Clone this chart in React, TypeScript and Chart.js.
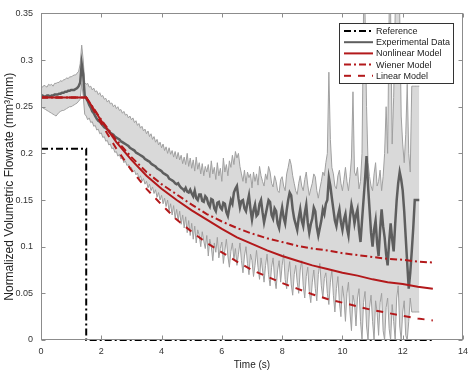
import React, { useEffect, useRef } from "react";
import { Chart, registerables } from "chart.js";
Chart.register(...registerables);

// Experimental data sampled every 0.05 s from 0 to 12.55 s
const expMean = [
  0.262, 0.262, 0.261, 0.261, 0.262, 0.262, 0.261, 0.262, 0.262, 0.263,
  0.263, 0.263, 0.264, 0.264, 0.265, 0.265, 0.266, 0.266, 0.267, 0.267,
  0.268, 0.268, 0.268, 0.269, 0.27, 0.272, 0.276, 0.296, 0.285, 0.262,
  0.259, 0.256, 0.252, 0.249, 0.245, 0.243, 0.24, 0.237, 0.235, 0.234,
  0.232, 0.23, 0.228, 0.227, 0.226, 0.224, 0.222, 0.221, 0.22, 0.218,
  0.217, 0.216, 0.215, 0.213, 0.212, 0.211, 0.21, 0.209, 0.208, 0.206,
  0.205, 0.204, 0.203, 0.201, 0.2, 0.199, 0.198, 0.197, 0.196, 0.194,
  0.193, 0.192, 0.191, 0.189, 0.188, 0.187, 0.186, 0.184, 0.183, 0.182,
  0.181, 0.179, 0.178, 0.177, 0.176, 0.173, 0.172, 0.171, 0.17, 0.168,
  0.167, 0.168, 0.165, 0.163, 0.162, 0.16, 0.163, 0.159, 0.158, 0.161,
  0.157, 0.154, 0.16, 0.152, 0.15, 0.156, 0.156, 0.149, 0.148, 0.154,
  0.152, 0.146, 0.143, 0.151, 0.15, 0.141, 0.138, 0.147, 0.148, 0.142,
  0.14, 0.147, 0.146, 0.137, 0.133, 0.142, 0.15, 0.146, 0.158, 0.162,
  0.165, 0.152, 0.142, 0.149, 0.15, 0.141, 0.138, 0.147, 0.155, 0.14,
  0.129, 0.139, 0.145, 0.133, 0.135, 0.146, 0.15, 0.137, 0.126, 0.134,
  0.142, 0.15, 0.148, 0.134, 0.13, 0.141, 0.138, 0.125, 0.12, 0.133,
  0.142, 0.131, 0.125, 0.139, 0.15, 0.158, 0.155, 0.14, 0.13, 0.124,
  0.118, 0.131, 0.14, 0.128, 0.122, 0.136, 0.145, 0.126, 0.115, 0.124,
  0.13, 0.142, 0.138, 0.121, 0.112, 0.12, 0.128, 0.14, 0.135, 0.146,
  0.15, 0.174, 0.165, 0.152, 0.14, 0.128, 0.122, 0.133, 0.14, 0.126,
  0.118, 0.129, 0.135, 0.12, 0.112, 0.131, 0.145, 0.137, 0.125, 0.134,
  0.14, 0.118, 0.105, 0.128, 0.15, 0.172, 0.197, 0.165, 0.14, 0.115,
  0.1, 0.118, 0.128, 0.104, 0.09, 0.118, 0.14, 0.122, 0.11, 0.092,
  0.08, 0.105, 0.125, 0.108, 0.095, 0.124, 0.15, 0.168, 0.18, 0.172,
  0.16, 0.138, 0.11, 0.082, 0.055, 0.072, 0.095, 0.12, 0.15, 0.15,
  0.15, 0.15,
];
const expUpper = [
  0.272, 0.271, 0.273, 0.272, 0.271, 0.274, 0.273, 0.274, 0.272, 0.275,
  0.275, 0.276, 0.276, 0.278, 0.277, 0.279, 0.279, 0.281, 0.28, 0.282,
  0.282, 0.283, 0.284, 0.284, 0.286, 0.288, 0.296, 0.316, 0.3, 0.276,
  0.274, 0.275, 0.271, 0.272, 0.268, 0.27, 0.266, 0.267, 0.263, 0.265,
  0.261, 0.262, 0.258, 0.259, 0.255, 0.257, 0.253, 0.254, 0.25, 0.252,
  0.248, 0.25, 0.246, 0.247, 0.243, 0.245, 0.241, 0.242, 0.238, 0.24,
  0.236, 0.238, 0.233, 0.235, 0.23, 0.232, 0.227, 0.229, 0.224, 0.226,
  0.221, 0.224, 0.218, 0.221, 0.215, 0.218, 0.212, 0.215, 0.209, 0.212,
  0.206, 0.21, 0.203, 0.207, 0.2, 0.206, 0.199, 0.203, 0.196, 0.202,
  0.194, 0.201, 0.193, 0.198, 0.189, 0.196, 0.188, 0.2, 0.186, 0.195,
  0.184, 0.193, 0.181, 0.196, 0.183, 0.19, 0.178, 0.189, 0.176, 0.186,
  0.18, 0.188, 0.174, 0.192, 0.178, 0.185, 0.172, 0.19, 0.176, 0.184,
  0.17, 0.195, 0.18, 0.188, 0.176, 0.192, 0.185, 0.198, 0.188, 0.202,
  0.195, 0.2, 0.186, 0.178, 0.17, 0.182, 0.168, 0.18, 0.174, 0.178,
  0.163, 0.18, 0.17, 0.178, 0.166, 0.186, 0.176, 0.17, 0.165, 0.178,
  0.172, 0.186, 0.18, 0.168, 0.164, 0.176, 0.17, 0.16, 0.158, 0.172,
  0.175, 0.165, 0.16, 0.178, 0.185, 0.194, 0.188, 0.176, 0.168, 0.16,
  0.156, 0.168, 0.176, 0.165, 0.16, 0.172, 0.18, 0.166, 0.155, 0.162,
  0.168, 0.178, 0.175, 0.16, 0.152, 0.162, 0.17, 0.18, 0.176, 0.19,
  0.2, 0.287, 0.215, 0.185, 0.178, 0.165, 0.162, 0.176, 0.182, 0.168,
  0.16, 0.172, 0.185, 0.17, 0.16, 0.175, 0.195, 0.266, 0.18, 0.176,
  0.185, 0.162, 0.17, 0.2, 0.35, 0.35, 0.25, 0.19, 0.175, 0.165,
  0.16, 0.178, 0.19, 0.165, 0.17, 0.182, 0.16, 0.175, 0.2, 0.25,
  0.2, 0.35, 0.35, 0.21, 0.26, 0.35, 0.35, 0.35, 0.35, 0.24,
  0.21, 0.19, 0.22, 0.274, 0.2, 0.18, 0.272, 0.272, 0.272, 0.272,
  0.272, 0.272,
];
const expLower = [
  0.25, 0.249, 0.248, 0.247, 0.246, 0.245, 0.244, 0.243, 0.242, 0.241,
  0.24, 0.242, 0.244, 0.245, 0.246, 0.246, 0.247, 0.248, 0.249, 0.25,
  0.25, 0.251, 0.252, 0.253, 0.254, 0.256, 0.258, 0.275, 0.262, 0.242,
  0.24, 0.236, 0.238, 0.233, 0.234, 0.229, 0.23, 0.225, 0.226, 0.221,
  0.222, 0.217, 0.218, 0.213, 0.214, 0.209, 0.21, 0.205, 0.206, 0.201,
  0.202, 0.197, 0.199, 0.194, 0.195, 0.19, 0.192, 0.187, 0.188, 0.183,
  0.185, 0.18, 0.182, 0.177, 0.179, 0.173, 0.176, 0.17, 0.173, 0.167,
  0.17, 0.163, 0.167, 0.16, 0.164, 0.157, 0.161, 0.153, 0.158, 0.15,
  0.155, 0.146, 0.152, 0.143, 0.15, 0.138, 0.146, 0.134, 0.144, 0.13,
  0.14, 0.128, 0.138, 0.124, 0.134, 0.12, 0.132, 0.115, 0.128, 0.112,
  0.125, 0.108, 0.122, 0.104, 0.118, 0.112, 0.1, 0.116, 0.106, 0.098,
  0.112, 0.09, 0.108, 0.1, 0.085, 0.104, 0.094, 0.11, 0.088, 0.098,
  0.105, 0.082, 0.096, 0.108, 0.09, 0.078, 0.095, 0.104, 0.086, 0.098,
  0.08, 0.092, 0.104, 0.085, 0.072, 0.09, 0.1, 0.082, 0.07, 0.092,
  0.085, 0.068, 0.08, 0.096, 0.078, 0.065, 0.088, 0.075, 0.062, 0.08,
  0.092, 0.07, 0.058, 0.078, 0.088, 0.066, 0.055, 0.075, 0.085, 0.062,
  0.08, 0.092, 0.065, 0.055, 0.072, 0.084, 0.06, 0.048, 0.07, 0.08,
  0.062, 0.05, 0.075, 0.085, 0.058, 0.045, 0.068, 0.078, 0.052, 0.04,
  0.062, 0.075, 0.055, 0.042, 0.07, 0.082, 0.058, 0.045, 0.066, 0.072,
  0.05, 0.038, 0.062, 0.075, 0.048, 0.03, 0.055, 0.068, 0.04, 0.025,
  0.058, 0.045, 0.02, 0.05, 0.062, 0.03, 0.01, 0.048, 0.04, 0.015,
  0.045, 0.055, 0.02, 0.0, 0.04, 0.052, 0.015, 0.0, 0.035, 0.048,
  0.02, 0.0, 0.042, 0.03, 0.005, 0.04, 0.05, 0.01, 0.0, 0.035,
  0.045, 0.012, 0.0, 0.038, 0.02, 0.0, 0.045, 0.058, 0.015, 0.0,
  0.03, 0.042, 0.005, 0.0, 0.02, 0.045, 0.03, 0.03, 0.03, 0.03,
  0.03, 0.03,
];
const expStep = 0.05;

const modelTime = [0, 1.5, 2, 2.5, 3, 3.5, 4, 4.5, 5, 5.5, 6, 6.5, 7, 7.5, 8, 8.5, 9, 9.5, 10, 10.5, 11, 11.5, 12, 12.5, 13];
const nonlinearModel = [0.26, 0.26, 0.235, 0.212, 0.193, 0.176, 0.162, 0.15, 0.139, 0.129, 0.119, 0.11, 0.103, 0.096, 0.09, 0.085, 0.08, 0.076, 0.072, 0.069, 0.065, 0.062, 0.06, 0.057, 0.055];
const wienerModel = [0.26, 0.26, 0.236, 0.214, 0.196, 0.18, 0.167, 0.156, 0.145, 0.135, 0.127, 0.12, 0.114, 0.109, 0.105, 0.101, 0.098, 0.096, 0.093, 0.091, 0.089, 0.087, 0.086, 0.084, 0.083];
const linearModel = [0.26, 0.26, 0.232, 0.205, 0.182, 0.162, 0.145, 0.129, 0.116, 0.104, 0.094, 0.084, 0.075, 0.068, 0.061, 0.055, 0.049, 0.044, 0.04, 0.036, 0.032, 0.029, 0.026, 0.023, 0.021];

const refTime = [0, 1.5, 1.5, 13];
const refValues = [0.205, 0.205, 0, 0];

const xTicks = [0, 2, 4, 6, 8, 10, 12, 14];
const xTickLabels = ["0", "2", "4", "6", "8", "10", "12", "14"];
const yTicks = [0, 0.05, 0.1, 0.15, 0.2, 0.25, 0.3, 0.35];
const yTickLabels = ["0", "0.05", "0.1", "0.15", "0.2", "0.25", "0.3", "0.35"];

const legendLabels = ["Reference", "Experimental Data", "Nonlinear Model", "Wiener Model", "Linear Model"];
const yTitle = "Normalized Volumetric Flowrate (mm³/mm)";
const xTitle = "Time (s)";

const RED = "#b3191b";
const FONT = "'Liberation Sans', Arial, Helvetica, sans-serif";

const zip = (xs: number[], ys: number[]) => ys.map((y, i) => ({ x: xs[i], y }));
const expTime = expMean.map((_, i) => Math.round(i * expStep * 100) / 100);

const framePlugin = {
  id: "frame",
  afterDatasetsDraw(chart: any) {
    const { ctx, chartArea: a, scales } = chart;
    ctx.save();
    ctx.strokeStyle = "#8c8c8c";
    ctx.lineWidth = 1;
    const L = Math.round(a.left) + 0.5;
    const R = Math.round(a.right) - 0.5;
    const T = Math.round(a.top) + 0.5;
    const B = Math.round(a.bottom) - 0.5;
    ctx.strokeRect(L, T, R - L, B - T);
    const tl = 4;
    ctx.beginPath();
    xTicks.forEach((v) => {
      const px = Math.round(scales.x.getPixelForValue(v)) + 0.5;
      ctx.moveTo(px, B);
      ctx.lineTo(px, B - tl);
      ctx.moveTo(px, T);
      ctx.lineTo(px, T + tl);
    });
    yTicks.forEach((v) => {
      const py = Math.round(scales.y.getPixelForValue(v)) + 0.5;
      ctx.moveTo(L, py);
      ctx.lineTo(L + tl, py);
      ctx.moveTo(R, py);
      ctx.lineTo(R - tl, py);
    });
    ctx.stroke();
    ctx.restore();
  },
  afterDraw(chart: any) {
    const { ctx, chartArea: a } = chart;
    // y axis title
    ctx.save();
    ctx.translate(10, (a.top + a.bottom) / 2 + 10);
    ctx.rotate(-Math.PI / 2);
    ctx.font = `12px ${FONT}`;
    ctx.fillStyle = "#222222";
    ctx.textAlign = "center";
    ctx.textBaseline = "middle";
    ctx.fillText(yTitle, 0, 0);
    ctx.restore();

    // legend
    const ds = chart.data.datasets;
    const w = 114;
    const h = 60;
    const x0 = Math.round(a.right - 10 - w);
    const y0 = Math.round(a.top + 10);
    ctx.save();
    ctx.fillStyle = "#ffffff";
    ctx.fillRect(x0, y0, w, h);
    ctx.strokeStyle = "#333333";
    ctx.lineWidth = 1;
    ctx.strokeRect(x0 + 0.5, y0 + 0.5, w, h);
    ctx.font = `9px ${FONT}`;
    ctx.textBaseline = "middle";
    ctx.textAlign = "left";
    legendLabels.forEach((label, i) => {
      const y = y0 + 8 + i * 11.2;
      const d = ds[i];
      ctx.beginPath();
      ctx.strokeStyle = d.borderColor;
      ctx.lineWidth = Math.min(d.borderWidth, 2);
      ctx.setLineDash(d.borderDash || []);
      ctx.moveTo(x0 + 5, y);
      ctx.lineTo(x0 + 34, y);
      ctx.stroke();
      ctx.setLineDash([]);
      ctx.fillStyle = "#222222";
      ctx.fillText(label, x0 + 37, y + 0.5);
    });
    ctx.restore();
  },
};

export default function App() {
  const ref = useRef<HTMLCanvasElement | null>(null);
  useEffect(() => {
    document.body.style.margin = "0";
    Chart.defaults.font.family = FONT;
    const canvas = ref.current!;
    const chart = new Chart(canvas, {
      type: "line",
      data: {
        datasets: [
          {
            label: legendLabels[0],
            data: zip(refTime, refValues),
            borderColor: "#000000",
            borderWidth: 2,
            borderDash: [7, 3, 2, 3],
            pointRadius: 0,
            order: 0,
            clip: { left: 2, top: 2, right: 2, bottom: 3 },
          },
          {
            label: legendLabels[1],
            data: zip(expTime, expMean),
            borderColor: "#5e5e5e",
            borderWidth: 2.5,
            pointRadius: 0,
            order: 4,
          },
          {
            label: legendLabels[2],
            data: zip(modelTime, nonlinearModel),
            borderColor: RED,
            borderWidth: 2,
            pointRadius: 0,
            order: 1,
          },
          {
            label: legendLabels[3],
            data: zip(modelTime, wienerModel),
            borderColor: RED,
            borderWidth: 2,
            borderDash: [7, 3, 2, 3],
            pointRadius: 0,
            order: 2,
          },
          {
            label: legendLabels[4],
            data: zip(modelTime, linearModel),
            borderColor: RED,
            borderWidth: 2,
            borderDash: [7, 7],
            pointRadius: 0,
            order: 3,
          },
          {
            label: "upper",
            data: zip(expTime, expUpper),
            borderColor: "#a0a0a0",
            borderWidth: 1,
            pointRadius: 0,
            fill: "+1",
            backgroundColor: "#d9d9d9",
            order: 5,
          },
          {
            label: "lower",
            data: zip(expTime, expLower),
            borderColor: "#a0a0a0",
            borderWidth: 1,
            pointRadius: 0,
            order: 6,
          },
        ],
      },
      options: {
        animation: false,
        responsive: false,
        maintainAspectRatio: false,
        layout: { padding: { left: 0, top: 5, right: 7, bottom: 0 } },
        plugins: {
          legend: { display: false },
          tooltip: { enabled: false },
          filler: { drawTime: "beforeDatasetsDraw" },
        } as any,
        scales: {
          x: {
            type: "linear",
            min: 0,
            max: 14,
            grid: { display: false, drawTicks: false },
            border: { display: false },
            afterFit: (s: any) => {
              s.height = 32;
            },
            afterBuildTicks: (s: any) => {
              s.ticks = xTicks.map((v) => ({ value: v }));
            },
            ticks: {
              padding: 6,
              maxRotation: 0,
              autoSkip: false,
              color: "#333333",
              font: { size: 9, family: FONT },
              callback: (v: any) => xTickLabels[xTicks.indexOf(Number(v))] ?? "",
            },
            title: {
              display: true,
              text: xTitle,
              color: "#222222",
              font: { size: 10, family: FONT },
              padding: { top: 0, bottom: 1 },
            },
          },
          y: {
            type: "linear",
            min: 0,
            max: 0.35,
            grid: { display: false, drawTicks: false },
            border: { display: false },
            afterFit: (s: any) => {
              s.width = 41;
            },
            afterBuildTicks: (s: any) => {
              s.ticks = yTicks.map((v) => ({ value: v }));
            },
            ticks: {
              padding: 8,
              autoSkip: false,
              color: "#333333",
              font: { size: 9, family: FONT },
              callback: (v: any) => {
                const idx = yTicks.findIndex((t) => Math.abs(t - Number(v)) < 1e-9);
                return idx >= 0 ? yTickLabels[idx] : "";
              },
            },
          },
        },
      },
      plugins: [framePlugin],
    } as any);
    return () => chart.destroy();
  }, []);
  return <canvas ref={ref} width={474} height={372} style={{ display: "block", width: 474, height: 372 }} />;
}
